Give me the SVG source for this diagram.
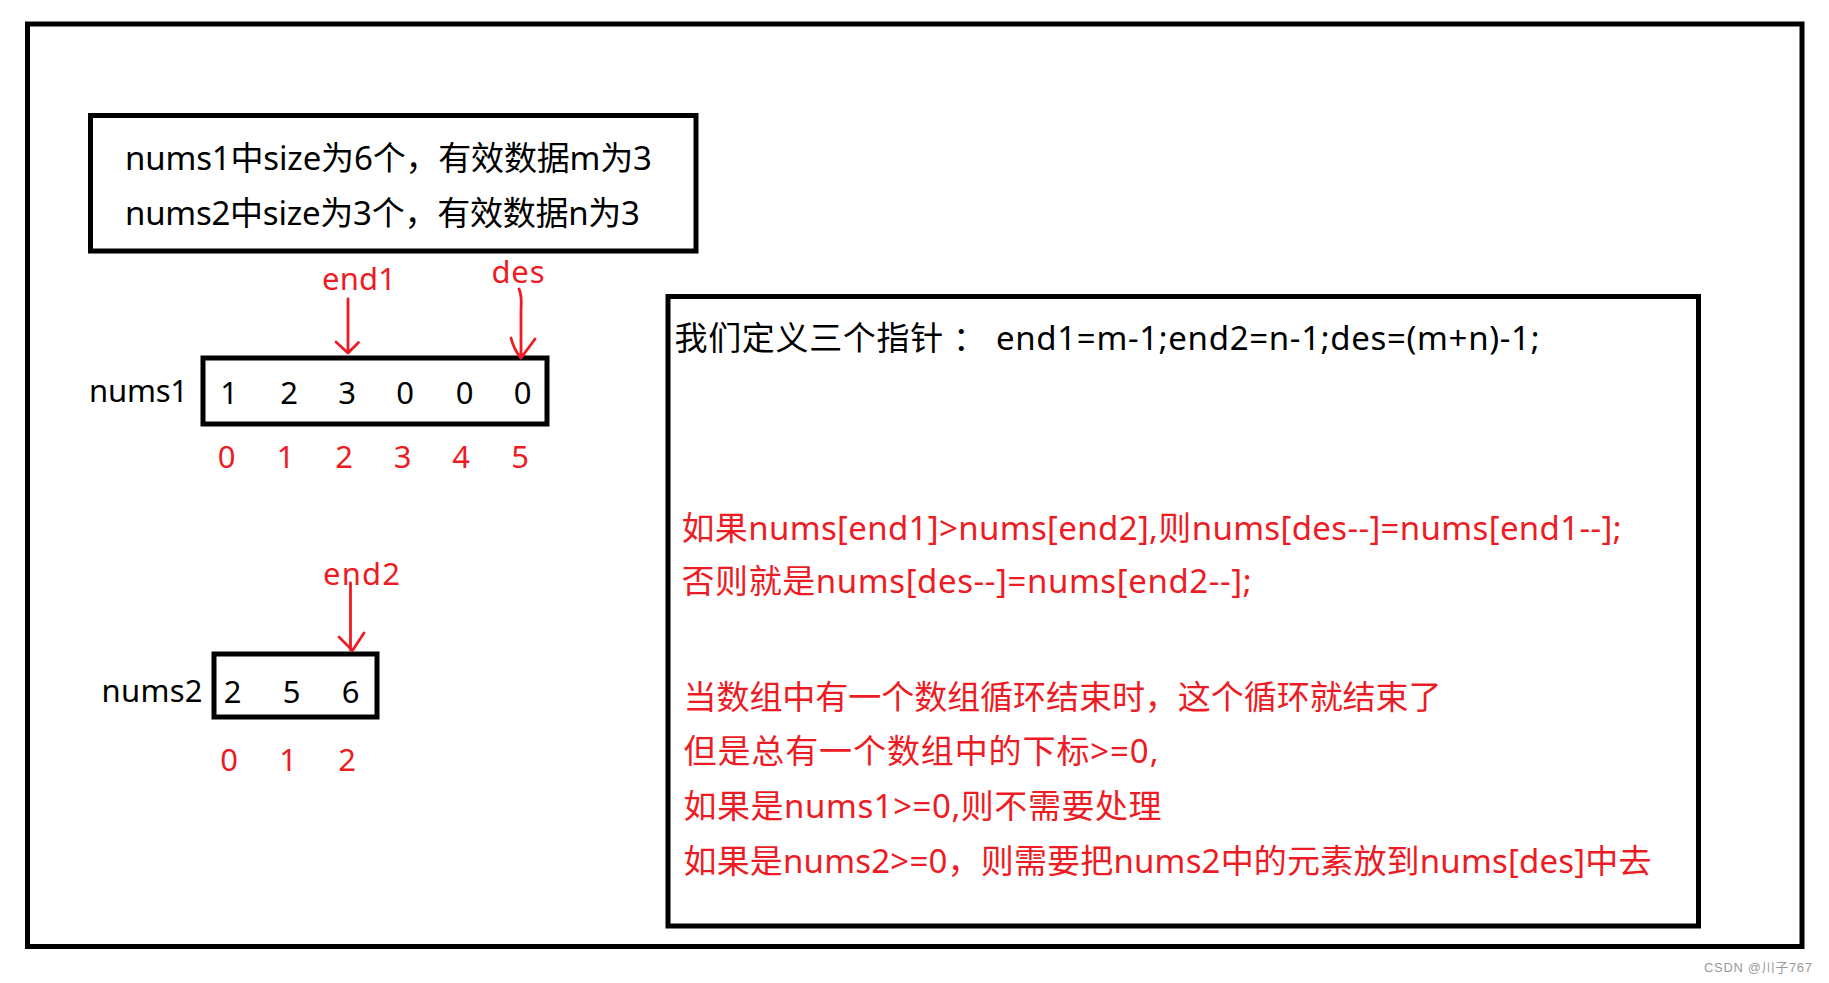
<svg xmlns="http://www.w3.org/2000/svg" width="1829" height="983" viewBox="0 0 1829 983">
<style>
  .box { fill: none; stroke: #000; stroke-width: 5; }
  .t { font-family: "Noto Sans", "Noto Sans CJK SC", sans-serif; font-size: 31px; fill: #000; }
  .r { font-family: "Noto Sans", "Noto Sans CJK SC", sans-serif; font-size: 31px; fill: #ED1C24; }
  .big { font-size: 33px; }
  .c { text-anchor: middle; }
  .arrow { fill: none; stroke: #ED1C24; stroke-width: 2.8; stroke-linecap: round; stroke-linejoin: round; }
  .wm { font-family: "Liberation Sans", "Noto Sans CJK SC", sans-serif; font-size: 13px; fill: #9a9a9a; }
</style>
<rect width="1829" height="983" fill="#fff"/>
<g id="frame"><rect class="box" x="27.5" y="24" width="1774.5" height="922.5"/></g>

<g id="info-box">
  <rect class="box" x="90.5" y="115.5" width="605.5" height="135.5"/>
  <text class="t big" x="125" y="170" textLength="527">nums1中size为6个，有效数据m为3</text>
  <text class="t big" x="125" y="225" textLength="515">nums2中size为3个，有效数据n为3</text>
</g>

<g id="nums1">
  <text class="t" x="89" y="402" textLength="99">nums1</text>
  <rect class="box" x="203" y="358" width="344" height="66"/>
  <text class="t c" x="229" y="404">1</text>
  <text class="t c" x="289" y="404">2</text>
  <text class="t c" x="347" y="404">3</text>
  <text class="t c" x="405" y="404">0</text>
  <text class="t c" x="464.5" y="404">0</text>
  <text class="t c" x="522.5" y="404">0</text>
  <text class="r c" x="226.5" y="468">0</text>
  <text class="r c" x="285.5" y="468">1</text>
  <text class="r c" x="344" y="468">2</text>
  <text class="r c" x="402.5" y="468">3</text>
  <text class="r c" x="461" y="468">4</text>
  <text class="r c" x="520" y="468">5</text>
</g>

<g id="nums2">
  <text class="t" x="101.5" y="702" textLength="101">nums2</text>
  <rect class="box" x="214" y="654" width="163" height="63"/>
  <text class="t c" x="232.5" y="703">2</text>
  <text class="t c" x="291.5" y="703">5</text>
  <text class="t c" x="350.5" y="703">6</text>
  <text class="r c" x="229" y="771">0</text>
  <text class="r c" x="288" y="771">1</text>
  <text class="r c" x="347" y="771">2</text>
</g>

<g id="pointer-end1"><text class="r" x="322" y="290" textLength="74">end1</text></g>
<g id="pointer-des"><text class="r" x="491.5" y="283" textLength="53">des</text></g>
<g id="pointer-end2"><text class="r" x="323" y="585" textLength="77">end2</text></g>

<g id="connectors">
  <path class="arrow" d="M348 299 L348 353 M336 342 L348 353 L358.5 342.5"/>
  <path class="arrow" d="M519 289 Q522 295 521 310 L521 358 M511 338 Q514 350 521 358 L535 339"/>
  <path class="arrow" d="M350.5 583 L350.5 650 M339 637 L352.5 650.5 L364 633"/>
</g>

<g id="explanation-box">
  <rect class="box" x="668" y="296.5" width="1030.5" height="629.5"/>
  <text class="t big" x="674.5" y="350" textLength="865">我们定义三个指针 ： end1=m-1;end2=n-1;des=(m+n)-1;</text>
  <text class="r big" x="681.5" y="540" textLength="940">如果nums[end1]&gt;nums[end2],则nums[des--]=nums[end1--];</text>
  <text class="r big" x="681.5" y="593" textLength="570">否则就是nums[des--]=nums[end2--];</text>
  <text class="r big" x="683.5" y="709" textLength="758">当数组中有一个数组循环结束时，这个循环就结束了</text>
  <text class="r big" x="683.5" y="763" textLength="475">但是总有一个数组中的下标&gt;=0,</text>
  <text class="r big" x="683.5" y="818" textLength="478">如果是nums1&gt;=0,则不需要处理</text>
  <text class="r big" x="683.5" y="873" textLength="968">如果是nums2&gt;=0，则需要把nums2中的元素放到nums[des]中去</text>
</g>

<text class="wm" x="1704" y="972" textLength="108">CSDN @川子767</text>
</svg>
